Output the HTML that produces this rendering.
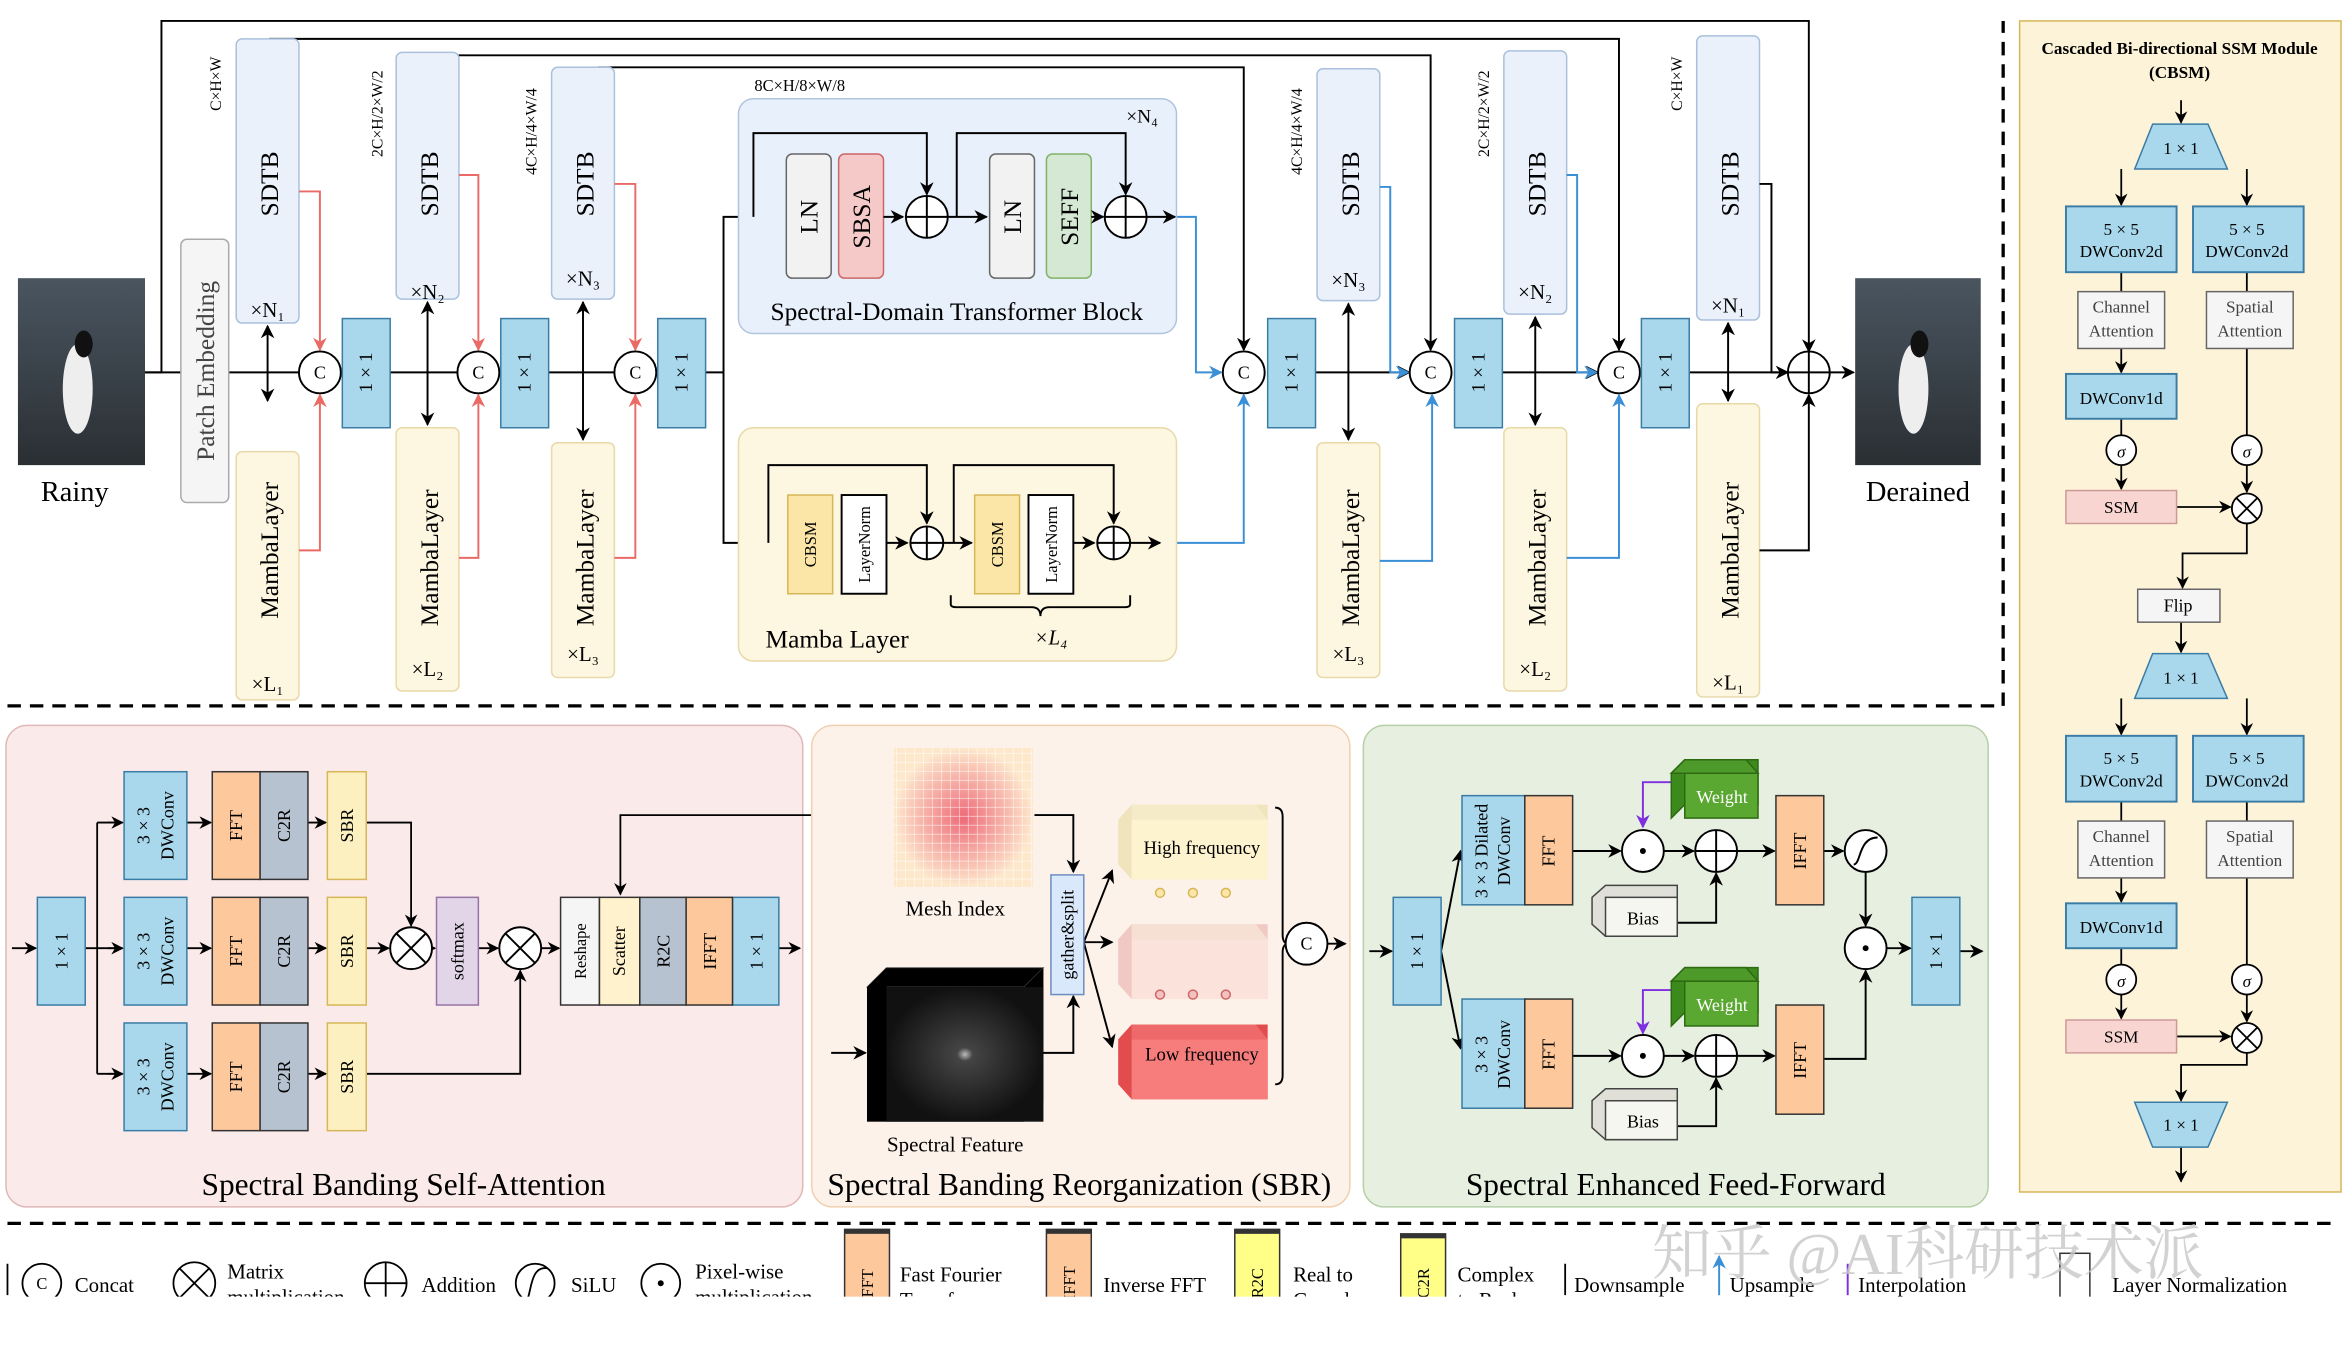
<!DOCTYPE html>
<html><head><meta charset="utf-8"><style>html,body{margin:0;padding:0;background:#fff}svg{display:block}text{font-family:"Liberation Serif","Noto Serif CJK SC",serif}</style></head><body>
<svg width="2344" height="1352" viewBox="0 0 1568 904" preserveAspectRatio="none" xmlns="http://www.w3.org/2000/svg">
<defs>
<marker id="a" viewBox="0 0 10 10" refX="9" refY="5" markerWidth="7" markerHeight="7" orient="auto-start-reverse"><path d="M0,0L10,5L0,10L3,5z" fill="#000"/></marker>
<marker id="r" viewBox="0 0 10 10" refX="9" refY="5" markerWidth="7" markerHeight="7" orient="auto-start-reverse"><path d="M0,0L10,5L0,10L3,5z" fill="#ea6b66"/></marker>
<marker id="b" viewBox="0 0 10 10" refX="9" refY="5" markerWidth="7" markerHeight="7" orient="auto-start-reverse"><path d="M0,0L10,5L0,10L3,5z" fill="#3a8fd6"/></marker>
<marker id="p" viewBox="0 0 10 10" refX="9" refY="5" markerWidth="7" markerHeight="7" orient="auto-start-reverse"><path d="M0,0L10,5L0,10L3,5z" fill="#7f2fe0"/></marker>
<radialGradient id="mesh"><stop offset="0" stop-color="#ee6a78"/><stop offset="1" stop-color="#fde8cc"/></radialGradient>
<radialGradient id="spec"><stop offset="0" stop-color="#bbb"/><stop offset="0.1" stop-color="#444"/><stop offset="1" stop-color="#111"/></radialGradient>
<linearGradient id="rain" x1="0" y1="0" x2="0" y2="1"><stop offset="0" stop-color="#4a5560"/><stop offset="1" stop-color="#2a2f33"/></linearGradient>
<pattern id="grid" width="6" height="6" patternUnits="userSpaceOnUse"><path d="M6,0V6H0" fill="none" stroke="#fff" stroke-width="0.8" opacity="0.8"/></pattern>
</defs>
<rect width="1568" height="904" fill="#fff"/>

<!-- top long skip lines -->
<g fill="none" stroke="#000" stroke-width="1.3">
<path d="M97,249H108V14H1210V235" marker-end="url(#a)"/>
<path d="M180,26H1083V234" marker-end="url(#a)"/>
<path d="M290,37H957V234" marker-end="url(#a)"/>
<path d="M400,45H832V234" marker-end="url(#a)"/>
<path d="M97,249H484"/>
<path d="M484,249V145H526" marker-end="url(#a)"/>
<path d="M484,249V363H527"/>
</g>
<!-- images -->
<rect x="12" y="186" width="85" height="125" fill="url(#rain)"/>
<ellipse cx="52" cy="260" rx="10" ry="30" fill="#eee"/><ellipse cx="56" cy="230" rx="6" ry="9" fill="#111"/>
<rect x="1241" y="186" width="84" height="125" fill="url(#rain)"/>
<ellipse cx="1280" cy="260" rx="10" ry="30" fill="#eee"/><ellipse cx="1284" cy="230" rx="6" ry="9" fill="#111"/>
<text x="50" y="335" font-size="19" text-anchor="middle">Rainy</text>
<text x="1283" y="335" font-size="19" text-anchor="middle">Derained</text>
<rect x="121" y="160" width="32" height="176" rx="4" fill="#f5f5f5" stroke="#aaa"/>
<text transform="translate(143,248) rotate(-90)" font-size="17" text-anchor="middle" fill="#444">Patch Embedding</text>

<!-- generic stage blocks -->
<g font-size="17">
<!-- encoder -->
<rect x="158" y="26" width="42" height="190" rx="4" fill="#eaf1fb" stroke="#aac0dd"/>
<text transform="translate(186,123) rotate(-90)" text-anchor="middle">SDTB</text><text x="179" y="212" font-size="14" text-anchor="middle">×N₁</text>
<rect x="158" y="302" width="42" height="166" rx="4" fill="#fdf6e0" stroke="#e8d9a8"/>
<text transform="translate(186,368) rotate(-90)" text-anchor="middle">MambaLayer</text><text x="179" y="462" font-size="14" text-anchor="middle">×L₁</text>
<rect x="265" y="35" width="42" height="165" rx="4" fill="#eaf1fb" stroke="#aac0dd"/>
<text transform="translate(293,123) rotate(-90)" text-anchor="middle">SDTB</text><text x="286" y="200" font-size="14" text-anchor="middle">×N₂</text>
<rect x="265" y="286" width="42" height="176" rx="4" fill="#fdf6e0" stroke="#e8d9a8"/>
<text transform="translate(293,373) rotate(-90)" text-anchor="middle">MambaLayer</text><text x="286" y="452" font-size="14" text-anchor="middle">×L₂</text>
<rect x="369" y="45" width="42" height="155" rx="4" fill="#eaf1fb" stroke="#aac0dd"/>
<text transform="translate(397,123) rotate(-90)" text-anchor="middle">SDTB</text><text x="390" y="191" font-size="14" text-anchor="middle">×N₃</text>
<rect x="369" y="296" width="42" height="157" rx="4" fill="#fdf6e0" stroke="#e8d9a8"/>
<text transform="translate(397,373) rotate(-90)" text-anchor="middle">MambaLayer</text><text x="390" y="442" font-size="14" text-anchor="middle">×L₃</text>
<!-- decoder -->
<rect x="881" y="46" width="42" height="155" rx="4" fill="#eaf1fb" stroke="#aac0dd"/>
<text transform="translate(909,123) rotate(-90)" text-anchor="middle">SDTB</text><text x="902" y="192" font-size="14" text-anchor="middle">×N₃</text>
<rect x="881" y="296" width="42" height="157" rx="4" fill="#fdf6e0" stroke="#e8d9a8"/>
<text transform="translate(909,373) rotate(-90)" text-anchor="middle">MambaLayer</text><text x="902" y="442" font-size="14" text-anchor="middle">×L₃</text>
<rect x="1006" y="34" width="42" height="176" rx="4" fill="#eaf1fb" stroke="#aac0dd"/>
<text transform="translate(1034,123) rotate(-90)" text-anchor="middle">SDTB</text><text x="1027" y="200" font-size="14" text-anchor="middle">×N₂</text>
<rect x="1006" y="286" width="42" height="176" rx="4" fill="#fdf6e0" stroke="#e8d9a8"/>
<text transform="translate(1034,373) rotate(-90)" text-anchor="middle">MambaLayer</text><text x="1027" y="452" font-size="14" text-anchor="middle">×L₂</text>
<rect x="1135" y="24" width="42" height="190" rx="4" fill="#eaf1fb" stroke="#aac0dd"/>
<text transform="translate(1163,123) rotate(-90)" text-anchor="middle">SDTB</text><text x="1156" y="209" font-size="14" text-anchor="middle">×N₁</text>
<rect x="1135" y="270" width="42" height="196" rx="4" fill="#fdf6e0" stroke="#e8d9a8"/>
<text transform="translate(1163,368) rotate(-90)" text-anchor="middle">MambaLayer</text><text x="1156" y="461" font-size="14" text-anchor="middle">×L₁</text>
</g>
<g font-size="10.5">
<text transform="translate(148,56) rotate(-90)" text-anchor="middle">C×H×W</text>
<text transform="translate(256,76) rotate(-90)" text-anchor="middle">2C×H/2×W/2</text>
<text transform="translate(359,88) rotate(-90)" text-anchor="middle">4C×H/4×W/4</text>
<text transform="translate(871,88) rotate(-90)" text-anchor="middle">4C×H/4×W/4</text>
<text transform="translate(996,76) rotate(-90)" text-anchor="middle">2C×H/2×W/2</text>
<text transform="translate(1125,56) rotate(-90)" text-anchor="middle">C×H×W</text>
<text x="535" y="61" text-anchor="middle" font-size="11">8C×H/8×W/8</text>
</g>
<!-- double arrows -->
<g stroke="#000" stroke-width="1.3" fill="none">
<path d="M179,218V268" marker-start="url(#a)" marker-end="url(#a)"/>
<path d="M286,202V284" marker-start="url(#a)" marker-end="url(#a)"/>
<path d="M390,202V294" marker-start="url(#a)" marker-end="url(#a)"/>
<path d="M902,203V294" marker-start="url(#a)" marker-end="url(#a)"/>
<path d="M1027,212V284" marker-start="url(#a)" marker-end="url(#a)"/>
<path d="M1156,216V268" marker-start="url(#a)" marker-end="url(#a)"/>
<path d="M880,249H943" marker-end="url(#a)"/>
<path d="M1005,249H1069" marker-end="url(#a)"/>
<path d="M1130,249H1196" marker-end="url(#a)"/>
<path d="M1224,249H1240" marker-end="url(#a)"/>
<path d="M1177,123H1185V249H1196"/>
<path d="M1177,368H1210V264" marker-end="url(#a)"/>
</g>
<!-- red -->
<g stroke="#ea6b66" stroke-width="1.3" fill="none">
<path d="M200,128H214V234" marker-end="url(#r)"/><path d="M200,368H214V264" marker-end="url(#r)"/>
<path d="M307,117H320V234" marker-end="url(#r)"/><path d="M307,373H320V264" marker-end="url(#r)"/>
<path d="M411,123H425V234" marker-end="url(#r)"/><path d="M411,373H425V264" marker-end="url(#r)"/>
</g>
<!-- blue -->
<g stroke="#3a8fd6" stroke-width="1.3" fill="none">
<path d="M787,145H800V249H817" marker-end="url(#b)"/><path d="M787,363H832V264" marker-end="url(#b)"/>
<path d="M923,125H930V249H942" marker-end="url(#b)"/><path d="M923,375H958V264" marker-end="url(#b)"/>
<path d="M1048,117H1055V249H1068" marker-end="url(#b)"/><path d="M1048,373H1083V264" marker-end="url(#b)"/>
</g>
<!-- C circles and 1x1 -->
<g stroke="#000" stroke-width="1.3" fill="#fff" font-size="12">
<circle cx="214" cy="249" r="14"/><circle cx="320" cy="249" r="14"/><circle cx="425" cy="249" r="14"/>
<circle cx="832" cy="249" r="14"/><circle cx="957" cy="249" r="14"/><circle cx="1083" cy="249" r="14"/>
<circle cx="1210" cy="249" r="14"/><path d="M1196,249H1224M1210,235V263"/>
</g>
<g font-size="12" text-anchor="middle"><text x="214" y="253">C</text><text x="320" y="253">C</text><text x="425" y="253">C</text><text x="832" y="253">C</text><text x="957" y="253">C</text><text x="1083" y="253">C</text></g>
<g fill="#a9d8ec" stroke="#3a7ca5">
<rect x="229" y="213" width="32" height="73"/><rect x="335" y="213" width="32" height="73"/><rect x="440" y="213" width="32" height="73"/>
<rect x="848" y="213" width="32" height="73"/><rect x="973" y="213" width="32" height="73"/><rect x="1098" y="213" width="32" height="73"/>
</g>
<g font-size="13" text-anchor="middle">
<text transform="translate(249,249) rotate(-90)">1 × 1</text><text transform="translate(355,249) rotate(-90)">1 × 1</text><text transform="translate(460,249) rotate(-90)">1 × 1</text>
<text transform="translate(868,249) rotate(-90)">1 × 1</text><text transform="translate(993,249) rotate(-90)">1 × 1</text><text transform="translate(1118,249) rotate(-90)">1 × 1</text>
</g>

<!-- SDTB detail block -->
<rect x="494" y="66" width="293" height="157" rx="10" fill="#e8f0fb" stroke="#b0c4de"/>
<rect x="526" y="103" width="30" height="83" rx="4" fill="#f2f2f2" stroke="#666"/>
<rect x="561" y="103" width="30" height="83" rx="4" fill="#f6c9c9" stroke="#c66"/>
<rect x="662" y="103" width="30" height="83" rx="4" fill="#f2f2f2" stroke="#666"/>
<rect x="700" y="103" width="30" height="83" rx="4" fill="#d5e8d4" stroke="#82b366"/>
<g font-size="17" text-anchor="middle"><text transform="translate(547,145) rotate(-90)">LN</text><text transform="translate(582,145) rotate(-90)">SBSA</text><text transform="translate(683,145) rotate(-90)">LN</text><text transform="translate(721,145) rotate(-90)">SEFF</text></g>
<g stroke="#000" stroke-width="1.3" fill="none">
<circle cx="620" cy="145" r="14" fill="#fff"/><path d="M606,145H634M620,131V159"/>
<circle cx="753" cy="145" r="14" fill="#fff"/><path d="M739,145H767M753,131V159"/>
<path d="M591,145H604" marker-end="url(#a)"/><path d="M634,145H660" marker-end="url(#a)"/><path d="M730,145H738" marker-end="url(#a)"/>
<path d="M504,145V89H620V130" marker-end="url(#a)"/><path d="M640,145V89H753V130" marker-end="url(#a)"/>
<path d="M767,145H786" marker-end="url(#a)"/>
</g>
<text x="640" y="214" font-size="17" text-anchor="middle">Spectral-Domain Transformer Block</text>
<text x="764" y="82" font-size="13" text-anchor="middle">×N₄</text>

<!-- Mamba detail -->
<rect x="494" y="286" width="293" height="156" rx="10" fill="#fdf6e0" stroke="#e8d9a8"/>
<rect x="527" y="331" width="30" height="66" fill="#fbe6a8" stroke="#d6b656"/>
<rect x="563" y="331" width="30" height="66" fill="#fff" stroke="#000" stroke-width="1.3"/>
<rect x="652" y="331" width="30" height="66" fill="#fbe6a8" stroke="#d6b656"/>
<rect x="688" y="331" width="30" height="66" fill="#fff" stroke="#000" stroke-width="1.3"/>
<g font-size="11" text-anchor="middle"><text transform="translate(546,364) rotate(-90)">CBSM</text><text transform="translate(582,364) rotate(-90)">LayerNorm</text><text transform="translate(671,364) rotate(-90)">CBSM</text><text transform="translate(707,364) rotate(-90)">LayerNorm</text></g>
<g stroke="#000" stroke-width="1.3" fill="none">
<circle cx="620" cy="363" r="11" fill="#fff"/><path d="M609,363H631M620,352V374"/>
<circle cx="745" cy="363" r="11" fill="#fff"/><path d="M734,363H756M745,352V374"/>
<path d="M593,363H607" marker-end="url(#a)"/><path d="M631,363H650" marker-end="url(#a)"/><path d="M718,363H732" marker-end="url(#a)"/>
<path d="M514,363V311H620V350" marker-end="url(#a)"/><path d="M638,363V311H745V350" marker-end="url(#a)"/>
<path d="M756,363H776" marker-end="url(#a)"/>
<path d="M636,398V404Q636,406 640,406H690Q696,406 696,412Q696,406 702,406H752Q756,406 756,404V398"/>
</g>
<text x="560" y="433" font-size="17" text-anchor="middle">Mamba Layer</text>
<text x="703" y="431" font-size="14" text-anchor="middle" font-style="italic">×L₄</text>

<!-- dashed lines -->
<g stroke="#000" stroke-width="2.2" stroke-dasharray="9,6" fill="none">
<path d="M5,472H1340V14"/><path d="M5,818H1560"/>
</g>

<!-- CBSM panel -->
<rect x="1351" y="14" width="215" height="783" fill="#fdf3d8" stroke="#d6b656"/>
<text x="1458" y="36" font-size="11.5" font-weight="bold" text-anchor="middle">Cascaded Bi-directional SSM Module</text>
<text x="1458" y="52" font-size="11.5" font-weight="bold" text-anchor="middle">(CBSM)</text>
<g id="cb">
<g stroke="#000" stroke-width="1.2" fill="none">
<path d="M1419,113V137" marker-end="url(#a)"/><path d="M1503,113V137" marker-end="url(#a)"/>
<path d="M1419,182V195M1503,182V195"/>
<path d="M1419,233V249" marker-end="url(#a)"/>
<path d="M1419,280V291M1419,311V327" marker-end="url(#a)"/>
<path d="M1503,233V291M1503,311V329" marker-end="url(#a)"/>
<path d="M1456,339H1492" marker-end="url(#a)"/>
</g>
<path d="M1440,83H1477L1490,113H1428Z" fill="#a9d8ec" stroke="#3a7ca5"/>
<rect x="1382" y="138" width="74" height="44" fill="#a9d8ec" stroke="#3a7ca5" stroke-width="1.3"/>
<rect x="1467" y="138" width="74" height="44" fill="#a9d8ec" stroke="#3a7ca5" stroke-width="1.3"/>
<rect x="1390" y="195" width="58" height="38" fill="#f5f5f5" stroke="#666"/>
<rect x="1476" y="195" width="58" height="38" fill="#f5f5f5" stroke="#666"/>
<rect x="1382" y="250" width="74" height="30" fill="#a9d8ec" stroke="#3a7ca5" stroke-width="1.3"/>
<rect x="1382" y="328" width="74" height="22" fill="#f8d5d1" stroke="#c99"/>
<g stroke="#000" stroke-width="1.2" fill="#fff"><circle cx="1419" cy="301" r="10"/><circle cx="1503" cy="301" r="10"/><circle cx="1503" cy="340" r="10"/><path d="M1496,333L1510,347M1510,333L1496,347"/></g>
<g font-size="11.5" text-anchor="middle">
<text x="1459" y="103">1 × 1</text>
<text x="1419" y="157">5 × 5</text><text x="1419" y="172">DWConv2d</text>
<text x="1503" y="157">5 × 5</text><text x="1503" y="172">DWConv2d</text>
<text x="1419" y="209" fill="#444">Channel</text><text x="1419" y="225" fill="#444">Attention</text>
<text x="1505" y="209" fill="#444">Spatial</text><text x="1505" y="225" fill="#444">Attention</text>
<text x="1419" y="270">DWConv1d</text><text x="1419" y="343">SSM</text>
<text x="1419" y="306" font-style="italic">σ</text><text x="1503" y="306" font-style="italic">σ</text>
</g>
</g>
<use href="#cb" transform="translate(0,354)"/>
<g stroke="#000" stroke-width="1.2" fill="none">
<path d="M1459,67V82" marker-end="url(#a)"/>
<path d="M1503,350V370H1460V393" marker-end="url(#a)"/>
<path d="M1459,416V436" marker-end="url(#a)"/>
<path d="M1503,704V712H1459V736" marker-end="url(#a)"/>
<path d="M1459,767V790" marker-end="url(#a)"/>
</g>
<rect x="1430" y="394" width="55" height="22" fill="#f5f5f5" stroke="#666"/>
<text x="1457" y="409" font-size="12" text-anchor="middle">Flip</text>
<rect x="1350" y="436" width="2" height="0"/>
<path d="M1428,737H1490L1477,767H1440Z" fill="#a9d8ec" stroke="#3a7ca5"/>
<text x="1459" y="756" font-size="11.5" text-anchor="middle">1 × 1</text>

<!-- SBSA panel -->
<rect x="4" y="485" width="533" height="322" rx="14" fill="#fbeaea" stroke="#e0b8b8"/>
<g stroke="#000" stroke-width="1.2" fill="none">
<path d="M8,634H24" marker-end="url(#a)"/>
<path d="M57,634H65M65,550V718M65,550H82M65,634H82M65,718H82" />
<path d="M72,550H82" marker-end="url(#a)"/><path d="M72,634H82" marker-end="url(#a)"/><path d="M72,718H82" marker-end="url(#a)"/>
<path d="M125,550H141" marker-end="url(#a)"/><path d="M125,634H141" marker-end="url(#a)"/><path d="M125,718H141" marker-end="url(#a)"/>
<path d="M206,550H218" marker-end="url(#a)"/><path d="M206,634H218" marker-end="url(#a)"/><path d="M206,718H218" marker-end="url(#a)"/>
<path d="M245,550H275V619" marker-end="url(#a)"/><path d="M245,634H260" marker-end="url(#a)"/>
<path d="M289,634H291" marker-end="url(#a)"/><path d="M320,634H333" marker-end="url(#a)"/>
<path d="M245,718H348V649" marker-end="url(#a)"/>
<path d="M362,634H374" marker-end="url(#a)"/>
<path d="M521,634H535" marker-end="url(#a)"/>
<path d="M598,545H415V598" marker-end="url(#a)"/>
</g>
<g stroke="#3a7ca5" fill="#a9d8ec">
<rect x="25" y="600" width="32" height="72"/>
<rect x="83" y="516" width="42" height="72"/><rect x="83" y="600" width="42" height="72"/><rect x="83" y="684" width="42" height="72"/>
<rect x="490" y="600" width="31" height="72"/>
</g>
<g stroke="#333">
<rect x="142" y="516" width="32" height="72" fill="#fdc89c"/><rect x="174" y="516" width="32" height="72" fill="#b6c2d0"/>
<rect x="142" y="600" width="32" height="72" fill="#fdc89c"/><rect x="174" y="600" width="32" height="72" fill="#b6c2d0"/>
<rect x="142" y="684" width="32" height="72" fill="#fdc89c"/><rect x="174" y="684" width="32" height="72" fill="#b6c2d0"/>
<rect x="375" y="600" width="26" height="72" fill="#f5f5f5"/><rect x="401" y="600" width="27" height="72" fill="#fff2cc"/>
<rect x="428" y="600" width="31" height="72" fill="#b6c2d0"/><rect x="459" y="600" width="31" height="72" fill="#fdc89c"/>
</g>
<g stroke="#d6b656" fill="#fdf0c0"><rect x="219" y="516" width="26" height="72"/><rect x="219" y="600" width="26" height="72"/><rect x="219" y="684" width="26" height="72"/></g>
<rect x="292" y="600" width="28" height="72" fill="#e1d5e7" stroke="#9673a6"/>
<g stroke="#000" stroke-width="1.3" fill="#fff"><circle cx="275" cy="634" r="14"/><path d="M265,624L285,644M285,624L265,644"/><circle cx="348" cy="634" r="14"/><path d="M338,624L358,644M358,624L338,644"/></g>
<g font-size="12" text-anchor="middle">
<text transform="translate(100,552) rotate(-90)">3 × 3</text><text transform="translate(116,552) rotate(-90)">DWConv</text>
<text transform="translate(100,636) rotate(-90)">3 × 3</text><text transform="translate(116,636) rotate(-90)">DWConv</text>
<text transform="translate(100,720) rotate(-90)">3 × 3</text><text transform="translate(116,720) rotate(-90)">DWConv</text>
<text transform="translate(162,552) rotate(-90)">FFT</text><text transform="translate(194,552) rotate(-90)">C2R</text>
<text transform="translate(162,636) rotate(-90)">FFT</text><text transform="translate(194,636) rotate(-90)">C2R</text>
<text transform="translate(162,720) rotate(-90)">FFT</text><text transform="translate(194,720) rotate(-90)">C2R</text>
<text transform="translate(236,552) rotate(-90)">SBR</text><text transform="translate(236,636) rotate(-90)">SBR</text><text transform="translate(236,720) rotate(-90)">SBR</text>
<text transform="translate(310,636) rotate(-90)">softmax</text>
<text transform="translate(392,636) rotate(-90)" font-size="11">Reshape</text><text transform="translate(418,636) rotate(-90)">Scatter</text>
<text transform="translate(448,636) rotate(-90)">R2C</text><text transform="translate(479,636) rotate(-90)">IFFT</text>
<text transform="translate(510,636) rotate(-90)">1 × 1</text><text transform="translate(45,636) rotate(-90)">1 × 1</text>
</g>
<text x="270" y="799" font-size="21" text-anchor="middle">Spectral Banding Self-Attention</text>

<!-- SBR panel -->
<rect x="543" y="485" width="360" height="322" rx="14" fill="#fdf2ea" stroke="#f0d0b0"/>
<rect x="598" y="500" width="93" height="93" fill="url(#mesh)"/><rect x="598" y="500" width="93" height="93" fill="url(#grid)"/>
<text x="639" y="612" font-size="14" text-anchor="middle">Mesh Index</text>
<path d="M580,660L593,647H698L685,660Z" fill="#000" stroke="#555" stroke-width="0.6"/>
<path d="M685,660L698,647V737L685,750Z" fill="#000"/>
<rect x="580" y="660" width="105" height="90" fill="#000"/>
<rect x="593" y="660" width="105" height="90" fill="url(#spec)" transform="translate(-0,0)"/>
<path d="M580,660L593,647V737L580,750Z" fill="#000"/>
<text x="639" y="770" font-size="14" text-anchor="middle">Spectral Feature</text>
<g stroke="#000" stroke-width="1.3" fill="none">
<path d="M556,704H579" marker-end="url(#a)"/>
<path d="M698,704H718V666" marker-end="url(#a)"/>
<path d="M692,545H718V583" marker-end="url(#a)"/>
<path d="M725,630L744,582" marker-end="url(#a)"/><path d="M725,630H744" marker-end="url(#a)"/><path d="M725,630L744,700" marker-end="url(#a)"/>
<path d="M853,540Q858,540 858,546V625Q858,631 862,631Q858,631 858,637V719Q858,725 853,725"/>
<path d="M887,631H900" marker-end="url(#a)"/>
</g>
<rect x="703" y="585" width="22" height="80" fill="#dae8fc" stroke="#6c8ebf"/>
<text transform="translate(718,625) rotate(-90)" font-size="12" text-anchor="middle">gather&amp;split</text>
<path d="M748,548L757,538H848V588H757L748,578Z" fill="#f0e4bc"/><rect x="757" y="548" width="91" height="40" fill="#fdf3cf"/><path d="M757,538H840L848,548H757Z" fill="#f6ebc8"/>
<text x="804" y="571" font-size="12.5" text-anchor="middle">High frequency</text>
<path d="M748,628L757,618H848V668H757L748,658Z" fill="#f0c8c4"/><rect x="757" y="628" width="91" height="40" fill="#fbe3dc"/><path d="M757,618H840L848,628H757Z" fill="#f6e0d4"/>
<path d="M748,695L757,685H848V735H757L748,725Z" fill="#e24c4c"/><rect x="757" y="695" width="91" height="40" fill="#f77c7c"/><path d="M757,685H840L848,695H757Z" fill="#ee6a6a"/>
<text x="804" y="709" font-size="12.5" text-anchor="middle">Low frequency</text>
<g fill="#fbe6a8" stroke="#d6b656"><circle cx="776" cy="597" r="3"/><circle cx="798" cy="597" r="3"/><circle cx="820" cy="597" r="3"/></g>
<g fill="#f4c0c0" stroke="#c66"><circle cx="776" cy="665" r="3"/><circle cx="798" cy="665" r="3"/><circle cx="820" cy="665" r="3"/></g>
<circle cx="874" cy="631" r="14" fill="#fff" stroke="#000" stroke-width="1.3"/><text x="874" y="635" font-size="12" text-anchor="middle">C</text>
<text x="722" y="799" font-size="21" text-anchor="middle">Spectral Banding Reorganization (SBR)</text>

<!-- SEFF panel -->
<rect x="912" y="485" width="418" height="322" rx="14" fill="#e6efe0" stroke="#b5d0a8"/>
<g stroke="#000" stroke-width="1.3" fill="none">
<path d="M916,636H931" marker-end="url(#a)"/>
<path d="M964,636L977,569" marker-end="url(#a)"/><path d="M964,636L977,701" marker-end="url(#a)"/>
<path d="M1052,569H1084" marker-end="url(#a)"/><path d="M1113,569H1133" marker-end="url(#a)"/><path d="M1162,569H1187" marker-end="url(#a)"/><path d="M1220,569H1233" marker-end="url(#a)"/>
<path d="M1052,706H1084" marker-end="url(#a)"/><path d="M1113,706H1133" marker-end="url(#a)"/><path d="M1162,706H1187" marker-end="url(#a)"/>
<path d="M1122,617H1148V584" marker-end="url(#a)"/><path d="M1122,753H1148V721" marker-end="url(#a)"/>
<path d="M1248,583V619" marker-end="url(#a)"/><path d="M1220,708H1248V649" marker-end="url(#a)"/>
<path d="M1262,634H1278" marker-end="url(#a)"/><path d="M1311,636H1326" marker-end="url(#a)"/>
</g>
<g stroke="#7f2fe0" stroke-width="1.3" fill="none"><path d="M1118,523H1099V553" marker-end="url(#p)"/><path d="M1118,662H1099V691" marker-end="url(#p)"/></g>
<g stroke="#3a7ca5" fill="#a9d8ec"><rect x="932" y="600" width="32" height="72"/><rect x="978" y="532" width="42" height="73"/><rect x="978" y="668" width="42" height="73"/><rect x="1279" y="600" width="32" height="72"/></g>
<g stroke="#333" fill="#fdc89c"><rect x="1020" y="532" width="32" height="73"/><rect x="1020" y="668" width="32" height="73"/><rect x="1188" y="532" width="32" height="73"/><rect x="1188" y="672" width="32" height="73"/></g>
<g stroke="#2d6a12"><path d="M1118,517L1127,508H1176V538H1127L1118,547Z" fill="#3c8a1c"/><rect x="1127" y="517" width="49" height="30" fill="#5aa832"/><path d="M1118,517L1127,508H1168L1176,517Z" fill="#4d9a2a"/>
<path d="M1118,656L1127,647H1176V677H1127L1118,686Z" fill="#3c8a1c"/><rect x="1127" y="656" width="49" height="30" fill="#5aa832"/><path d="M1118,656L1127,647H1168L1176,656Z" fill="#4d9a2a"/></g>
<g stroke="#444" fill="#e0e0d8"><path d="M1065,600L1074,592H1122V626H1074L1065,618Z"/><rect x="1074" y="600" width="48" height="26" fill="#f6f6f0"/><path d="M1065,736L1074,728H1122V762H1074L1065,754Z"/><rect x="1074" y="736" width="48" height="26" fill="#f6f6f0"/></g>
<g stroke="#000" stroke-width="1.3" fill="#fff">
<circle cx="1099" cy="569" r="14"/><circle cx="1148" cy="569" r="14"/><circle cx="1248" cy="569" r="14"/>
<circle cx="1099" cy="706" r="14"/><circle cx="1148" cy="706" r="14"/><circle cx="1248" cy="634" r="14"/>
<path d="M1134,569H1162M1148,555V583M1134,706H1162M1148,692V720" fill="none"/>
<path d="M1240,578C1245,578 1243,560 1256,560" fill="none"/>
</g>
<g fill="#000"><circle cx="1099" cy="569" r="2"/><circle cx="1099" cy="706" r="2"/><circle cx="1248" cy="634" r="2"/></g>
<g font-size="12" text-anchor="middle">
<text transform="translate(995,569) rotate(-90)">3 × 3 Dilated</text><text transform="translate(1010,569) rotate(-90)">DWConv</text>
<text transform="translate(995,705) rotate(-90)">3 × 3</text><text transform="translate(1010,705) rotate(-90)">DWConv</text>
<text transform="translate(1040,569) rotate(-90)">FFT</text><text transform="translate(1040,705) rotate(-90)">FFT</text>
<text transform="translate(1208,569) rotate(-90)">IFFT</text><text transform="translate(1208,709) rotate(-90)">IFFT</text>
<text transform="translate(952,636) rotate(-90)">1 × 1</text><text transform="translate(1299,636) rotate(-90)">1 × 1</text>
<text x="1152" y="537" fill="#fff">Weight</text><text x="1152" y="676" fill="#fff">Weight</text>
<text x="1099" y="618">Bias</text><text x="1099" y="754">Bias</text>
</g>
<text x="1121" y="799" font-size="21" text-anchor="middle">Spectral Enhanced Feed-Forward</text>

<!-- legend -->
<g stroke="#000" stroke-width="1.2" fill="none">
<circle cx="28" cy="858" r="13"/><circle cx="130" cy="858" r="14"/><path d="M120,848L140,868M140,848L120,868"/>
<circle cx="258" cy="858" r="14"/><path d="M244,858H272M258,844V872"/>
<circle cx="358" cy="858" r="13"/><path d="M351,870C356,870 353,846 366,848"/>
<circle cx="442" cy="858" r="13"/>
<path d="M5,845V866M1047,845V866"/>
</g>
<circle cx="442" cy="858" r="2"/>
<text x="28" y="862" font-size="11" text-anchor="middle">C</text>
<rect x="565" y="822" width="30" height="50" fill="#fdc89c" stroke="#333"/><rect x="565" y="822" width="30" height="3" fill="#333"/>
<rect x="700" y="822" width="30" height="50" fill="#fdc89c" stroke="#333"/><rect x="700" y="822" width="30" height="3" fill="#333"/>
<rect x="826" y="822" width="30" height="50" fill="#ffff88" stroke="#333"/><rect x="826" y="822" width="30" height="3" fill="#333"/>
<rect x="937" y="825" width="30" height="50" fill="#ffff88" stroke="#333"/><rect x="937" y="825" width="30" height="3" fill="#333"/>
<rect x="1378" y="838" width="20" height="30" fill="#fff" stroke="#333"/>
<path d="M1150,866V840" stroke="#3a8fd6" stroke-width="1.3" marker-end="url(#b)"/>
<path d="M1236,845V866" stroke="#7f2fe0" stroke-width="1.3"/>
<g font-size="14">
<text x="50" y="864">Concat</text><text x="152" y="855">Matrix</text><text x="152" y="872">multiplication</text>
<text x="282" y="864">Addition</text><text x="382" y="864">SiLU</text><text x="465" y="855">Pixel-wise</text><text x="465" y="872">multiplication</text>
<text transform="translate(584,858) rotate(-90)" font-size="11" text-anchor="middle">FFT</text>
<text transform="translate(719,858) rotate(-90)" font-size="11" text-anchor="middle">IFFT</text>
<text transform="translate(845,858) rotate(-90)" font-size="11" text-anchor="middle">R2C</text>
<text transform="translate(956,858) rotate(-90)" font-size="11" text-anchor="middle">C2R</text>
<text x="602" y="857">Fast Fourier</text><text x="602" y="874">Transform</text>
<text x="738" y="864">Inverse FFT</text><text x="865" y="857">Real to</text><text x="865" y="874">Complex</text>
<text x="975" y="857">Complex</text><text x="975" y="874">to Real</text>
<text x="1053" y="864">Downsample</text><text x="1157" y="864">Upsample</text><text x="1243" y="864">Interpolation</text><text x="1413" y="864">Layer Normalization</text>
</g>
<text x="1105" y="852" font-size="40" fill="#c8c8c8" opacity="0.8" font-family="Liberation Sans, 'Noto Sans CJK SC', sans-serif">知乎 @AI科研技术派</text>
<rect x="0" y="867" width="1568" height="37" fill="#fff"/>
</svg>
</body></html>
